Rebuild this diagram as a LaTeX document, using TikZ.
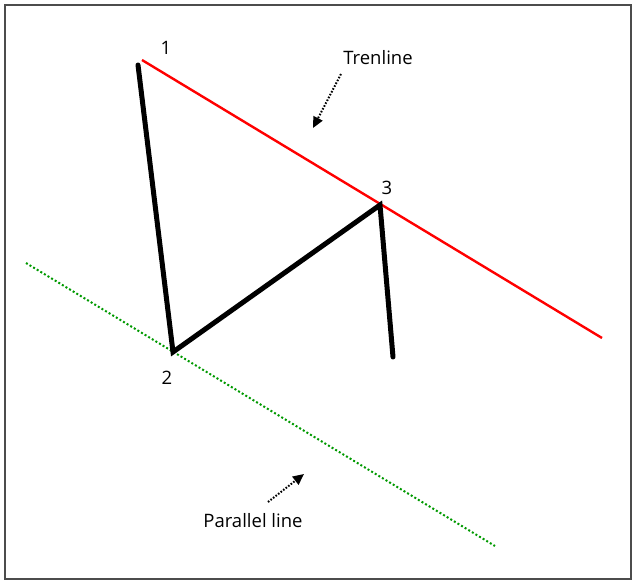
\documentclass[tikz,border=0pt]{standalone}
\usepackage{fontspec}
\setmainfont{Open Sans}
\usetikzlibrary{arrows.meta}
\begin{document}
\begin{tikzpicture}[x=1pt,y=-1pt,
  lbl/.style={inner sep=0pt,font=\fontsize{18.5}{20}\selectfont},
  trend/.style={draw=red,line width=2.4pt},
  wave/.style={draw=black,line width=5pt,line cap=round,line join=miter},
  par/.style={draw=green!60!black,line width=2pt,dash pattern=on 2pt off 2.2pt},
  pointer/.style={draw=black,line width=2pt,dash pattern=on 1.6pt off 1.6pt,-{Triangle[length=11pt,width=10pt]}}]
\useasboundingbox (0,0) rectangle (638,586);
\draw[draw=black!70,line width=1.5pt] (5,5) rectangle (631,579);
\coordinate (r1) at (142,60);
\coordinate (r2) at (602,338);
\coordinate (g1) at (26,263);
\coordinate (g2) at (495,546);
\coordinate (p1) at (138,65);
\coordinate (p2) at (173,352);
\coordinate (p3) at (380,205);
\coordinate (p4) at (393,357);
\draw[trend] (r1) -- (r2);
\draw[par] (g1) -- (g2);
\draw[wave] (p1) -- (p2) -- (p3) -- (p4);
\node[lbl] (n1) at (166,48) {1};
\node[lbl] (n2) at (167,378) {2};
\node[lbl] (n3) at (387,188) {3};
\node[lbl] (t1) at (378,58) {Trenline};
\node[lbl] (t2) at (253,521) {Parallel line};
\coordinate (a1s) at (341,74);
\coordinate (a1e) at (313,128);
\coordinate (a2s) at (268,502);
\coordinate (a2e) at (304,474);
\draw[pointer] (a1s) -- (a1e);
\draw[pointer] (a2s) -- (a2e);
\end{tikzpicture}
\end{document}
